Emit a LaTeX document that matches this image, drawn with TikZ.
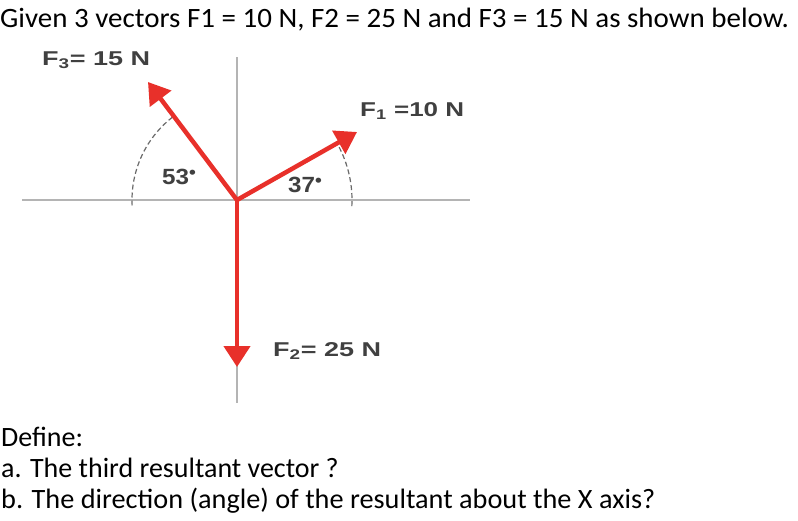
\documentclass[tikz,border=0pt]{standalone}
\usepackage{fontspec}
\setmainfont{Carlito}
\newfontfamily\labfont{Liberation Sans}
\usetikzlibrary{arrows.meta}
\definecolor{vecred}{HTML}{E8302A}
\definecolor{axisgray}{HTML}{B4B4B4}
\definecolor{arcgray}{HTML}{6A6A6A}
\definecolor{labgray}{HTML}{404040}
\tikzset{
  axisline/.style={draw=axisgray,line width=1.6pt},
  vec/.style={draw=vecred,line width=4.5pt,-{Triangle[length=21pt,width=26pt]}},
  anglearc/.style={draw=arcgray,line width=1.2pt,dash pattern=on 5pt off 3pt},
  lab/.style={font=\labfont\bfseries\fontsize{20}{23}\selectfont,text=labgray,inner sep=0pt},
  anglab/.style={font=\labfont\bfseries\fontsize{22}{25}\selectfont,text=labgray,inner sep=0pt},
  txt/.style={font=\fontsize{28}{33}\selectfont,text=black,inner sep=0pt,anchor=base west},
}
\newcommand{\degdot}{\raisebox{0.55ex}{\scalebox{0.8}{•}}}
\begin{document}
\begin{tikzpicture}[x=1pt,y=1pt]
\useasboundingbox[fill=white] (0,0) rectangle (798,-520);
% texts
\node[txt] (title) at (0,-27) {\scalebox{1.035}[1]{Given 3 vectors F1 = 10 N, F2 = 25 N and F3 = 15 N as shown below.}};
\node[txt] (def) at (1,-446) {Define:};
\node[txt] (qa) at (1,-477) {a. The third resultant vector ?};
\node[txt] (qb) at (1,-508) {\scalebox{1.01}[1]{b. The direction (angle) of the resultant about the X axis?}};
% axes
\coordinate (O) at (237,-200);
\coordinate (xl) at (22,-200);
\coordinate (xr) at (470,-200);
\coordinate (yt) at (237,-57);
\coordinate (yb) at (237,-403);
\draw[axisline] (xl) -- (xr);
\draw[axisline] (yt) -- (yb);
% arcs
\draw[anglearc] ([shift={(183:105)}]O) arc[start angle=183,end angle=127,radius=105];
\draw[anglearc] ([shift={(-3:115)}]O) arc[start angle=-3,end angle=29,radius=115];
% vectors
\coordinate (F3tip) at (148,-82);
\coordinate (F1tip) at (357,-132);
\coordinate (F2tip) at (237,-367);
\draw[vec] (O) -- (F3tip);
\draw[vec] (O) -- (F1tip);
\draw[vec] (O) -- (F2tip);
% labels
\node[lab,anchor=west] (L3) at (42,-60) {\scalebox{1.35}[1]{F\textsubscript{3}= 15 N}};
\node[lab,anchor=west] (L1) at (360,-111) {\scalebox{1.3}[1]{F\textsubscript{1} =10 N}};
\node[lab,anchor=west] (L2) at (273,-351) {\scalebox{1.35}[1]{F\textsubscript{2}= 25 N}};
\node[anglab,anchor=west] (a53) at (162,-177) {\scalebox{1.1}[1]{53\degdot}};
\node[anglab,anchor=west] (a37) at (288,-185) {\scalebox{1.1}[1]{37\degdot}};
\end{tikzpicture}
\end{document}
